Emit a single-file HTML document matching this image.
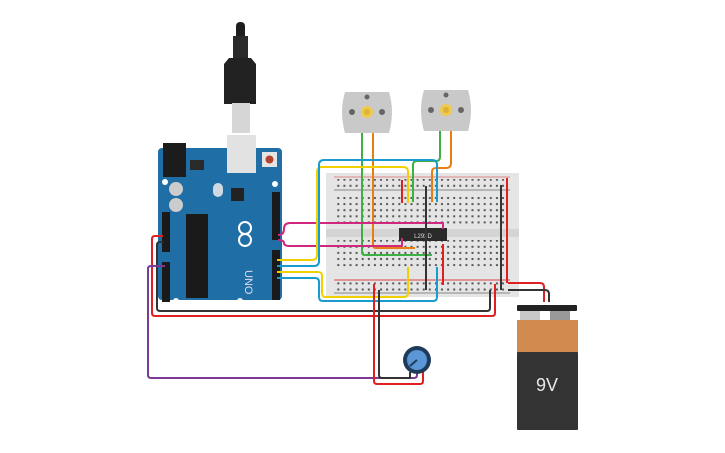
<!DOCTYPE html>
<html><head><meta charset="utf-8"><style>
html,body{margin:0;padding:0;background:#fff;}
svg{display:block;font-family:"Liberation Sans",sans-serif;}
</style></head><body>
<svg width="725" height="453" viewBox="0 0 725 453" xmlns="http://www.w3.org/2000/svg">
<defs>
<pattern id="holes" x="0" y="0" width="6.1" height="6.1" patternUnits="userSpaceOnUse">
<rect x="1.8" y="1.8" width="2" height="2" fill="#555"/>
</pattern>
</defs>
<!-- USB cable -->
<rect x="236" y="22" width="9" height="20" rx="4" fill="#1e1e1e"/>
<rect x="233" y="36" width="15" height="22" fill="#2a2a2a"/>
<path d="M229 58 h22 l5 6 v40 h-32 v-40z" fill="#222"/>
<rect x="232" y="103" width="18" height="30" fill="#d6d6d6"/>
<!-- Arduino -->
<rect x="158" y="148" width="124" height="152" rx="4" fill="#1f6ea6"/>
<rect x="163" y="143" width="23" height="34" fill="#1c1c1c"/>
<rect x="227" y="135" width="29" height="38" fill="#e2e2e2"/>
<rect x="262" y="152" width="15" height="15" fill="#e4e4e4"/><circle cx="269.5" cy="159.5" r="4" fill="#b4432c"/>
<rect x="190" y="160" width="14" height="10" fill="#2a2a2a"/>
<circle cx="176" cy="189" r="7" fill="#ccc"/><circle cx="176" cy="205" r="7" fill="#ccc"/>
<rect x="213" y="183" width="10" height="14" rx="5" fill="#cfd9e2"/>
<rect x="231" y="188" width="13" height="13" fill="#222"/>
<rect x="186" y="214" width="22" height="84" fill="#1a1a1a"/>
<rect x="162" y="212" width="8" height="40" fill="#1a1a1a"/>
<rect x="162" y="262" width="8" height="40" fill="#1a1a1a"/>
<rect x="272" y="192" width="8" height="48" fill="#1a1a1a"/>
<rect x="272" y="250" width="8" height="50" fill="#1a1a1a"/>
<circle cx="165" cy="182" r="3" fill="#fff"/><circle cx="275" cy="184" r="3" fill="#fff"/>
<circle cx="176" cy="301" r="3" fill="#fff"/><circle cx="240" cy="301" r="3" fill="#fff"/>
<text x="245" y="270" font-size="11" fill="#dde" transform="rotate(90 245 270)">UNO</text>
<circle cx="245" cy="228" r="6" fill="none" stroke="#fff" stroke-width="2"/><circle cx="245" cy="240" r="6" fill="none" stroke="#fff" stroke-width="2"/>
<!-- Breadboard -->
<rect x="326" y="173" width="193" height="124" fill="#e5e5e5"/>
<rect x="326" y="229" width="193" height="8" fill="#d4d4d4"/>
<line x1="334" y1="177" x2="510" y2="177" stroke="#d88" stroke-width="1"/>
<line x1="334" y1="190" x2="510" y2="190" stroke="#888" stroke-width="1"/>
<line x1="334" y1="280" x2="510" y2="280" stroke="#d44" stroke-width="1"/>
<line x1="334" y1="293" x2="510" y2="293" stroke="#888" stroke-width="1"/>
<rect x="335" y="179" width="170" height="10" fill="url(#holes)"/>
<rect x="335" y="197" width="170" height="30" fill="url(#holes)"/>
<rect x="335" y="240" width="170" height="30" fill="url(#holes)"/>
<rect x="335" y="282" width="170" height="10" fill="url(#holes)"/>
<!-- IC -->
<rect x="399" y="228" width="48" height="13" fill="#2a2a2a"/>
<text x="423" y="238" font-size="6" fill="#ddd" text-anchor="middle">L293D</text>
<!-- Motors -->
<g>
<path d="M345 92 h44 q6 20 0 41 h-44 q-6 -21 0 -41z" fill="#c9c9c9"/>
<circle cx="367" cy="97" r="2.5" fill="#666"/><circle cx="352" cy="112" r="3" fill="#666"/><circle cx="382" cy="112" r="3" fill="#666"/>
<circle cx="367" cy="112" r="6" fill="#f0c94a"/><circle cx="367" cy="112" r="3" fill="#d9b33c"/>
<path d="M424 90 h44 q6 20 0 41 h-44 q-6 -21 0 -41z" fill="#c9c9c9"/>
<circle cx="446" cy="95" r="2.5" fill="#666"/><circle cx="431" cy="110" r="3" fill="#666"/><circle cx="461" cy="110" r="3" fill="#666"/>
<circle cx="446" cy="110" r="6" fill="#f0c94a"/><circle cx="446" cy="110" r="3" fill="#d9b33c"/>
</g>
<!-- Wires -->
<g fill="none" stroke-width="2" stroke-linejoin="round">
<path d="M362 133 V252 q0 3 3 3 H432" stroke="#3cb043"/>
<path d="M373 133 V245 q0 3 3 3 H415" stroke="#e87d10"/>
<path d="M440 131 V157 q0 4 -4 4 H417 q-4 0 -4 4 V202" stroke="#3cb043"/>
<path d="M451 131 V163 q0 5 -5 5 H436 q-4 0 -4 4 V202" stroke="#e87d10"/>
<path d="M278 235 q6 0 6 -6 q0 -6 6 -6 H443 V229" stroke="#d0287f"/>
<path d="M278 240 q6 0 6 3 q0 3 6 3 H402 V238" stroke="#d0287f"/>
<path d="M277 260 H312 q5 0 5 -5 V172 q0 -5 5 -5 H403 q5 0 5 5 V203" stroke="#f0d000"/>
<path d="M277 266 H314 q5 0 5 -5 V165 q0 -5 5 -5 H432 q5 0 5 5 V202" stroke="#1a9bd0"/>
<path d="M277 272 H318 q4 0 4 4 V293 q0 4 4 4 H404 q4 0 4 -4 V267" stroke="#f0d000"/>
<path d="M277 278 H315 q4 0 4 4 V297 q0 4 4 4 H433 q4 0 4 -4 V267" stroke="#1a9bd0"/>
<path d="M402 180 V203" stroke="#e02020"/>
<path d="M426 186 V290" stroke="#333"/>
<path d="M443 244 V285" stroke="#e02020"/>
<path d="M507 178 V283" stroke="#e02020"/>
<path d="M501 185 V290" stroke="#333"/>
<path d="M508 283 H540 q4 0 4 4 V302" stroke="#e02020"/>
<path d="M508 290 H545 q4 0 4 4 V302" stroke="#333"/>
<path d="M163 236 H155 q-3 0 -3 3 V313 q0 3 3 3 H492 q3 0 3 -3 V284" stroke="#e02020"/>
<path d="M163 242 H160 q-3 0 -3 3 V308 q0 3 3 3 H487 q3 0 3 -3 V290" stroke="#333"/>
<path d="M165 266 H151 q-3 0 -3 3 V375 q0 3 3 3 H414 q3 0 3 -3 V372" stroke="#7a3a96"/>
<path d="M379 290 V375 q0 3 3 3 H410 V372" stroke="#333"/>
<path d="M374 284 V381 q0 3 3 3 H420 q3 0 3 -3 V372" stroke="#e02020"/>
</g>
<!-- Potentiometer -->
<circle cx="417" cy="360" r="14" fill="#1e3c5a"/>
<circle cx="417" cy="360" r="10" fill="#5b96d6"/>
<line x1="417" y1="360" x2="410" y2="366" stroke="#1e3c5a" stroke-width="2"/>
<!-- Battery -->
<rect x="520" y="310" width="20" height="12" fill="#c8c8c8"/>
<rect x="550" y="310" width="20" height="12" fill="#999"/>
<rect x="517" y="305" width="60" height="6" rx="1" fill="#222"/>
<rect x="517" y="320" width="61" height="33" fill="#d28b4f"/>
<rect x="517" y="352" width="61" height="78" rx="1" fill="#333"/>
<text x="547" y="391" font-size="18" fill="#e8e8e8" text-anchor="middle">9V</text>
</svg>
</body></html>
